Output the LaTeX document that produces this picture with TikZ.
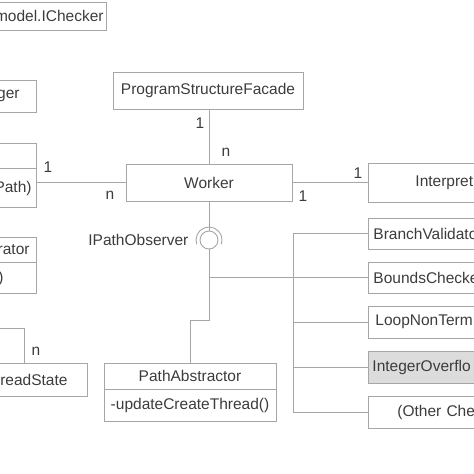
\documentclass[tikz,border=0pt]{standalone}
\usepackage{fontspec}
\setmainfont{Liberation Sans}
\usetikzlibrary{positioning}
\definecolor{linegray}{HTML}{A6A6A6}
\definecolor{textgray}{HTML}{3C3C3C}
\definecolor{boxfill}{HTML}{DCDCDC}

\begin{document}
\begin{tikzpicture}[x=1pt,y=-1pt,
  every node/.style={text=textgray,font=\fontsize{15.5}{18}\selectfont},
  cls/.style={draw=linegray,line width=0.9pt,rectangle,inner ysep=0pt},
  lbox/.style={cls,anchor=east,text width=120pt,align=right},
  rbox/.style={cls,anchor=west,text width=130pt,align=left},
  mult/.style={inner sep=0pt},
  conn/.style={draw=linegray,line width=0.9pt}]
\useasboundingbox (0,0) rectangle (474,474);
% cut boxes on the left
\node[lbox,minimum height=28pt,inner xsep=3pt] (checker) at (107,16) {model.IChecker};
\node[lbox,minimum height=32pt,inner xsep=17pt] (mgr) at (37,96) {ger};
\node[lbox,minimum height=25pt,inner xsep=5pt] (pathtop) at (37,155.5) {};
\node[lbox,anchor=north east,minimum height=39pt,inner xsep=5pt] (pathbot) at (pathtop.south east) {Path)};
\node[lbox,minimum height=25pt,inner xsep=7pt] (gentop) at (37,249.5) {rator};
\node[lbox,anchor=north east,minimum height=31pt,inner xsep=33pt] (genbot) at (gentop.south east) {)};
\node[lbox,minimum height=33pt,inner xsep=20pt] (thread) at (88,379.5) {readState};
% middle
\node[cls,minimum width=190pt,minimum height=37pt] (facade) at (208,90.5) {ProgramStructureFacade};
\node[cls,minimum width=166pt,minimum height=37pt] (worker) at (209,182.5) {Worker};
\node[draw=linegray,line width=0.9pt,circle,minimum size=18pt,inner sep=0pt] (obs) at (209,240) {};
\node[inner sep=0pt,left=11pt of obs] (obslabel) {IPathObserver};
\node[cls,minimum width=172pt,minimum height=26pt,inner xsep=4pt] (abs) at (190,376) {PathAbstractor};
\node[cls,minimum width=172pt,minimum height=32pt,inner xsep=4pt,below=0pt of abs] (absops) {-updateCreateThread()};
% cut boxes on the right
\node[rbox,minimum height=39pt,inner xsep=47pt] (interp) at (368,182.5) {Interpret};
\node[rbox,minimum height=31pt,inner xsep=5pt] (branch) at (368,233.5) {BranchValidato};
\node[rbox,minimum height=31pt,inner xsep=5pt] (bounds) at (368,277.5) {BoundsChecke};
\node[rbox,minimum height=32pt,inner xsep=7pt] (loop) at (368,322) {LoopNonTerm};
\node[rbox,minimum height=32pt,inner xsep=4pt,fill=boxfill] (intov) at (368,367) {IntegerOverflo};
\node[rbox,minimum height=32pt,inner xsep=29pt] (other) at (368,412) {(Other Che};
% connectors
\coordinate (bus) at (293,0);
\coordinate (jog) at (209,320);
\coordinate (tsrc) at (-5,328);
\coordinate (tbend) at (24,328);
\draw[conn] (worker.west) -- (worker.west -| pathbot.east);
\draw[conn] (facade.south -| worker.north) -- (worker.north);
\draw[conn] (worker.east) -- (worker.east -| interp.west);
\draw[conn] (worker.south) -- (obs.north);
\draw[conn] (obs) ++(-200:13) arc[start angle=-200,end angle=20,radius=13];
\draw[conn] (obs.south) -- (jog) -| (abs.north);
\draw[conn] (obs.south |- bounds.west) -- (bounds.west);
\draw[conn] (branch.west) -- (branch.west -| bus) -- (other.west -| bus) -- (other.west);
\draw[conn] (loop.west -| bus) -- (loop.west);
\draw[conn] (intov.west -| bus) -- (intov.west);
\draw[conn] (tsrc) -- (tbend) -- (tbend |- thread.north);
% multiplicities
\node[mult] at (48,167) {1};
\node[mult] at (110,195) {n};
\node[mult] at (200,123) {1};
\node[mult] at (226,152) {n};
\node[mult] at (358,173) {1};
\node[mult] at (303,196) {1};
\node[mult] at (36,351) {n};
\end{tikzpicture}
\end{document}
